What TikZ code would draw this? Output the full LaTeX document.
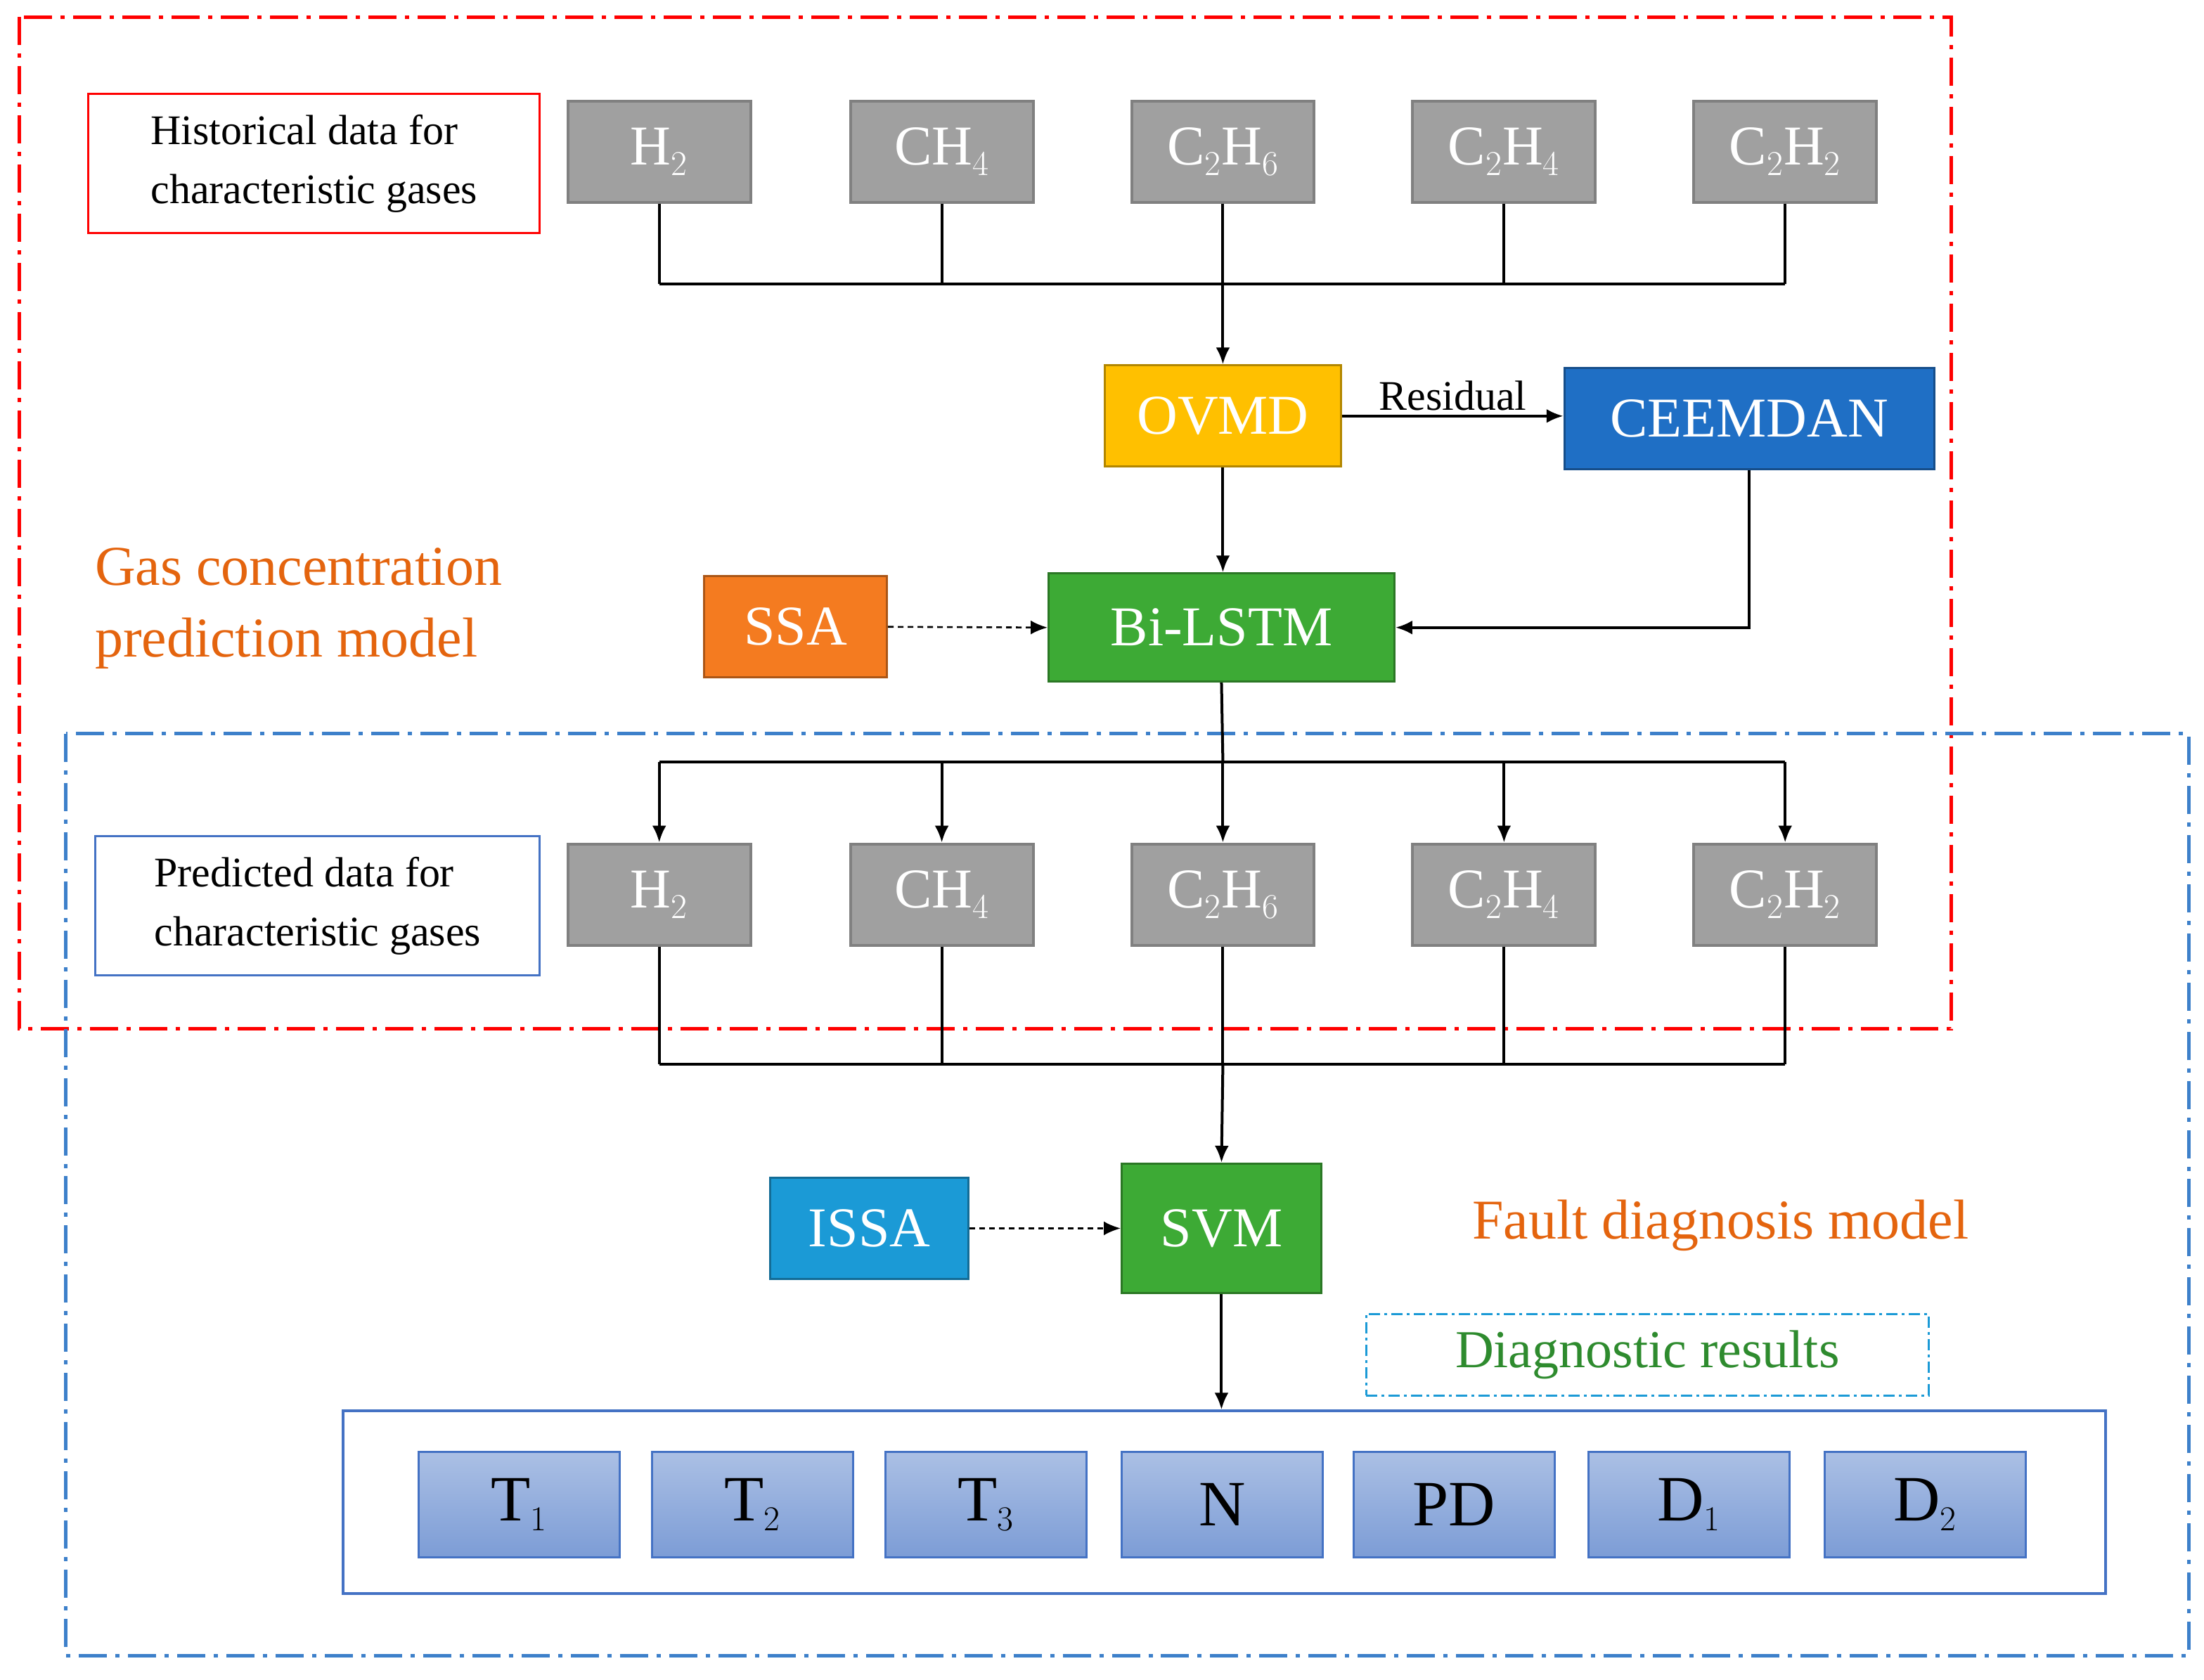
\documentclass[tikz,border=0pt]{standalone}
\usepackage{fontspec}
\setmainfont{Liberation Serif}
\usetikzlibrary{arrows.meta}
\definecolor{gbox}{HTML}{A0A0A0}
\definecolor{gline}{HTML}{808080}
\definecolor{ovmd}{HTML}{FFC000}
\definecolor{ceem}{HTML}{1F6FC5}
\definecolor{grn}{HTML}{3DAA35}
\definecolor{ssa}{HTML}{F47B20}
\definecolor{issa}{HTML}{1B9AD6}
\definecolor{orng}{HTML}{E4640E}
\definecolor{rb}{HTML}{4472C4}
\definecolor{dgreen}{HTML}{2E8B2E}
\begin{document}
\begin{tikzpicture}[x=1pt,y=-1pt,
 dd/.style={line width=2.5pt,dash pattern=on 20pt off 6pt on 3pt off 6pt},
 gas/.style={draw=gline,fill=gbox,line width=2pt,minimum width=130pt,minimum height=72pt,text=white,font=\fontsize{40}{44}\selectfont,inner sep=0pt},
 blk/.style={draw=#1!70!black,fill=#1,line width=1.5pt,text=white,font=\fontsize{40}{44}\selectfont,inner sep=0pt},
 res/.style={draw=rb,line width=1.5pt,top color=rb!45,bottom color=rb!70,minimum width=143pt,minimum height=75pt,font=\fontsize{46}{50}\selectfont,inner sep=0pt},
 lab/.style={line width=1.5pt,align=left,font=\fontsize{30}{42}\selectfont,inner sep=0pt},
 ln/.style={line width=2pt},
 ar/.style={line width=2pt,-{Latex[length=12pt,width=10pt]}},
 dar/.style={line width=1.3pt,dash pattern=on 4pt off 3pt,-{Latex[length=12pt,width=10pt]}}]
\useasboundingbox (0,0) rectangle (1568,1195);
\draw[dd,red] (14,12) rectangle (1388,732);
\draw[dd,rb!90!cyan] (47,522) rectangle (1557,1178);
% labels
\node[lab,draw=red,minimum width=321pt,minimum height=99pt] (hist) at (223.5,116.5) {Historical data for\\characteristic gases};
\node[lab,draw=rb,minimum width=316pt,minimum height=99pt] (pred) at (226,644.5) {Predicted data for\\characteristic gases};
% top gases
\foreach \n/\x/\t in {a/469/H$_2$,b/670/CH$_4$,c/870/C$_2$H$_6$,d/1070/C$_2$H$_4$,e/1270/C$_2$H$_2$}{
 \node[gas] (t\n) at (\x,108) {\t};
 \node[gas] (p\n) at (\x,636.5) {\t};
 \coordinate (tb\n) at (\x,202);
 \coordinate (pt\n) at (\x,542);
 \coordinate (pb\n) at (\x,757);
}
\foreach \n in {a,b,c,d,e}{\draw[ln] (t\n.south) -- (tb\n); \draw[ln] (p\n.south) -- (pb\n);}
\draw[ln] (tba) -- (tbe);
\draw[ln] (pba) -- (pbe);
\node[blk=ovmd,minimum width=168pt,minimum height=72pt] (ovmd) at (870,296) {OVMD};
\node[blk=ceem,minimum width=263pt,minimum height=72pt] (ceem) at (1244.5,298) {CEEMDAN};
\node[blk=grn,minimum width=246pt,minimum height=77pt] (bil) at (869,446.5) {Bi-LSTM};
\node[blk=ssa,minimum width=130pt,minimum height=72pt] (ssa) at (566,446) {SSA};
\node[blk=grn,minimum width=142pt,minimum height=92pt] (svm) at (869,874) {SVM};
\node[blk=issa,minimum width=141pt,minimum height=72pt] (issa) at (618.5,874) {ISSA};
\draw[ar] (tbc) -- (ovmd.north);
\draw[ar] (ovmd.east) -- node[above,font=\fontsize{30}{34}\selectfont,inner sep=3pt]{Residual} (ceem.west|-ovmd.east);
\draw[ar] (ovmd.south) -- (ovmd.south|-bil.north);
\draw[ar] (ceem.south) |- (bil.east);
\draw[dar] (ssa.east) -- (bil.west);
\draw[ln] (bil.south) -- (ptc);
\draw[ln] (pta) -- (pte);
\foreach \n in {a,b,c,d,e}{\draw[ar] (pt\n) -- (p\n.north);}
\draw[ar] (pbc) -- (svm.north);
\draw[dar] (issa.east) -- (svm.west);
\node[text=orng,align=left,anchor=west,font=\fontsize{40}{51}\selectfont] (gcp) at (64,433) {Gas concentration\\prediction model};
\node[text=orng,font=\fontsize{40}{44}\selectfont] (fdm) at (1224,872) {Fault diagnosis model};
\node[draw=issa,line width=1.5pt,dash pattern=on 8pt off 3pt on 2pt off 3pt,minimum width=400pt,minimum height=58pt,text=dgreen,font=\fontsize{38}{42}\selectfont] (diag) at (1172,964) {Diagnostic results};
\node[draw=rb,line width=2pt,minimum width=1254pt,minimum height=130pt] (rbox) at (871,1069) {};
\draw[ar] (svm.south) -- (rbox.north-|svm.south);
\foreach \n/\x/\t in {1/369.5/T$_1$,2/535.5/T$_2$,3/701.5/T$_3$,4/869.5/N,5/1034.5/PD,6/1201.5/D$_1$,7/1369.5/D$_2$}{
 \node[res] (r\n) at (\x,1070.5) {\t};
}
\end{tikzpicture}
\end{document}
